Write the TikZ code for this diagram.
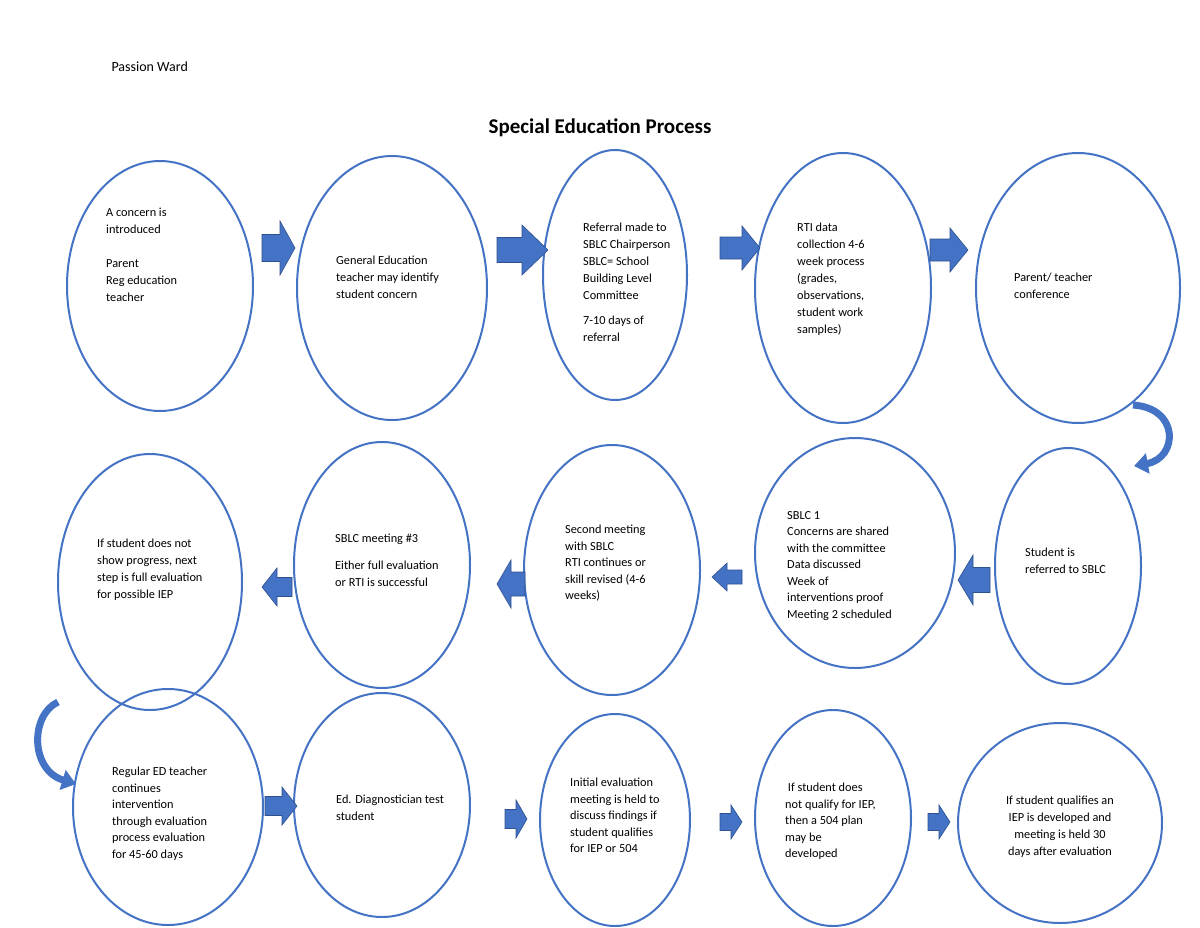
\documentclass[tikz,border=0pt]{standalone}
\usepackage{fontspec}
\setmainfont{Carlito}
\usetikzlibrary{arrows.meta}
\definecolor{eb}{HTML}{4472C4}
\definecolor{ed}{HTML}{2F528F}
% \rarr{tail x}{tip x}{center y}{half height}{head start x}
\newcommand\rarr[5]{\filldraw[fill=eb,draw=ed,line width=0.6] (#1,#3-0.5*#4) -- (#5,#3-0.5*#4) -- (#5,#3-#4) -- (#2,#3) -- (#5,#3+#4) -- (#5,#3+0.5*#4) -- (#1,#3+0.5*#4) -- cycle;}
\begin{document}
\begin{tikzpicture}[x=1pt,y=-1pt,
 ell/.style={draw=eb,line width=2},
 txt/.style={anchor=north west,align=left,inner sep=0,font=\fontsize{12.3}{17}\selectfont},
 curv/.style={draw=eb,line width=7,-{Triangle[width=20pt,length=14pt]}}]
\useasboundingbox[fill=white] (0,0) rectangle (1200,927);
\node[anchor=base west,font=\fontsize{14}{16}\selectfont] (auth) at (108,71) {Passion Ward};
\node[anchor=base,font=\bfseries\fontsize{21}{25}\selectfont] (title) at (600,133) {Special Education Process};
% row 1
\draw[ell] (160,286) ellipse [x radius=93,y radius=125];
\draw[ell] (392,288) ellipse [x radius=95,y radius=132];
\draw[ell] (615,275) ellipse [x radius=72,y radius=125];
\draw[ell] (843,288) ellipse [x radius=88,y radius=135];
\draw[ell] (1078,288) ellipse [x radius=102,y radius=135];
% row 2
\draw[ell] (1068,566) ellipse [x radius=73,y radius=118];
\draw[ell] (855,553) ellipse [x radius=100,y radius=115];
\draw[ell] (612,570) ellipse [x radius=88,y radius=125];
\draw[ell] (382,565) ellipse [x radius=88,y radius=123];
\draw[ell] (150,582) ellipse [x radius=92,y radius=128];
% row 3
\draw[ell] (168,807) ellipse [x radius=95,y radius=118];
\draw[ell] (382,805) ellipse [x radius=88,y radius=112];
\draw[ell] (615,820) ellipse [x radius=75,y radius=106];
\draw[ell] (833,818) ellipse [x radius=78,y radius=108];
\draw[ell] (1060,823) ellipse [x radius=102,y radius=100];
% texts
\node[txt] (t1) at (106,208) {A concern is\\introduced\\[17pt]Parent\\Reg education\\teacher};
\node[txt] (t2) at (336,256) {General Education\\teacher may identify\\student concern};
\node[txt] (t3) at (583,223) {Referral made to\\SBLC Chairperson\\SBLC= School\\Building Level\\Committee\\[8pt]7-10 days of\\referral};
\node[txt] (t4) at (797,223) {RTI data\\collection 4-6\\week process\\(grades,\\observations,\\student work\\samples)};
\node[txt] (t5) at (1014,273) {Parent/ teacher\\conference};
\node[txt] (t6) at (1025,548) {Student is\\referred to SBLC};
\node[txt,font=\fontsize{12.3}{16.5}\selectfont] (t7) at (787,511) {SBLC 1\\Concerns are shared\\with the committee\\Data discussed\\Week of\\interventions proof\\Meeting 2 scheduled};
\node[txt,font=\fontsize{12.3}{16.5}\selectfont] (t8) at (565,525) {Second meeting\\with SBLC\\RTI continues or\\skill revised (4-6\\weeks)};
\node[txt] (t9) at (335,534) {SBLC meeting \#3\\[10pt]Either full evaluation\\or RTI is successful};
\node[txt] (t10) at (97,539) {If student does not\\show progress, next\\step is full evaluation\\for possible IEP};
\node[txt,font=\fontsize{12.3}{16.5}\selectfont] (t11) at (112,767) {Regular ED teacher\\continues\\intervention\\through evaluation\\process evaluation\\for 45-60 days};
\node[txt] (t12) at (336,795) {Ed. Diagnostician test\\student};
\node[txt,font=\fontsize{12.3}{16.5}\selectfont] (t13) at (570,778) {Initial evaluation\\meeting is held to\\discuss findings if\\student qualifies\\for IEP or 504};
\node[txt,font=\fontsize{12.3}{16.5}\selectfont] (t14) at (785,783) {\ If student does\\not qualify for IEP,\\then a 504 plan\\may be\\developed};
\node[txt,anchor=north,align=center] (t15) at (1060,796) {If student qualifies an\\IEP is developed and\\meeting is held 30\\days after evaluation};
% block arrows
\rarr{262}{295}{248}{27}{280}
\rarr{497}{548}{250}{25}{522}
\rarr{720}{760}{248}{22}{742}
\rarr{930}{968}{250}{22}{950}
\rarr{990}{958}{580}{25}{973}
\rarr{742}{712}{577}{14}{727}
\rarr{525}{497}{584}{24}{511}
\rarr{292}{262}{587}{19}{277}
\rarr{265}{297}{806}{19}{282}
\rarr{505}{527}{819}{19}{516}
\rarr{720}{742}{822}{17}{731}
\rarr{928}{950}{822}{17}{939}
% curved arrows
\coordinate (c1s) at (1133,405);
\coordinate (c1e) at (1134,466);
\draw[curv] (c1s) .. controls (1180,408) and (1178,458) .. (c1e);
\coordinate (c2s) at (58,702);
\coordinate (c2e) at (76,784);
\draw[curv] (c2s) .. controls (30,715) and (30,770) .. (c2e);
\end{tikzpicture}
\end{document}
